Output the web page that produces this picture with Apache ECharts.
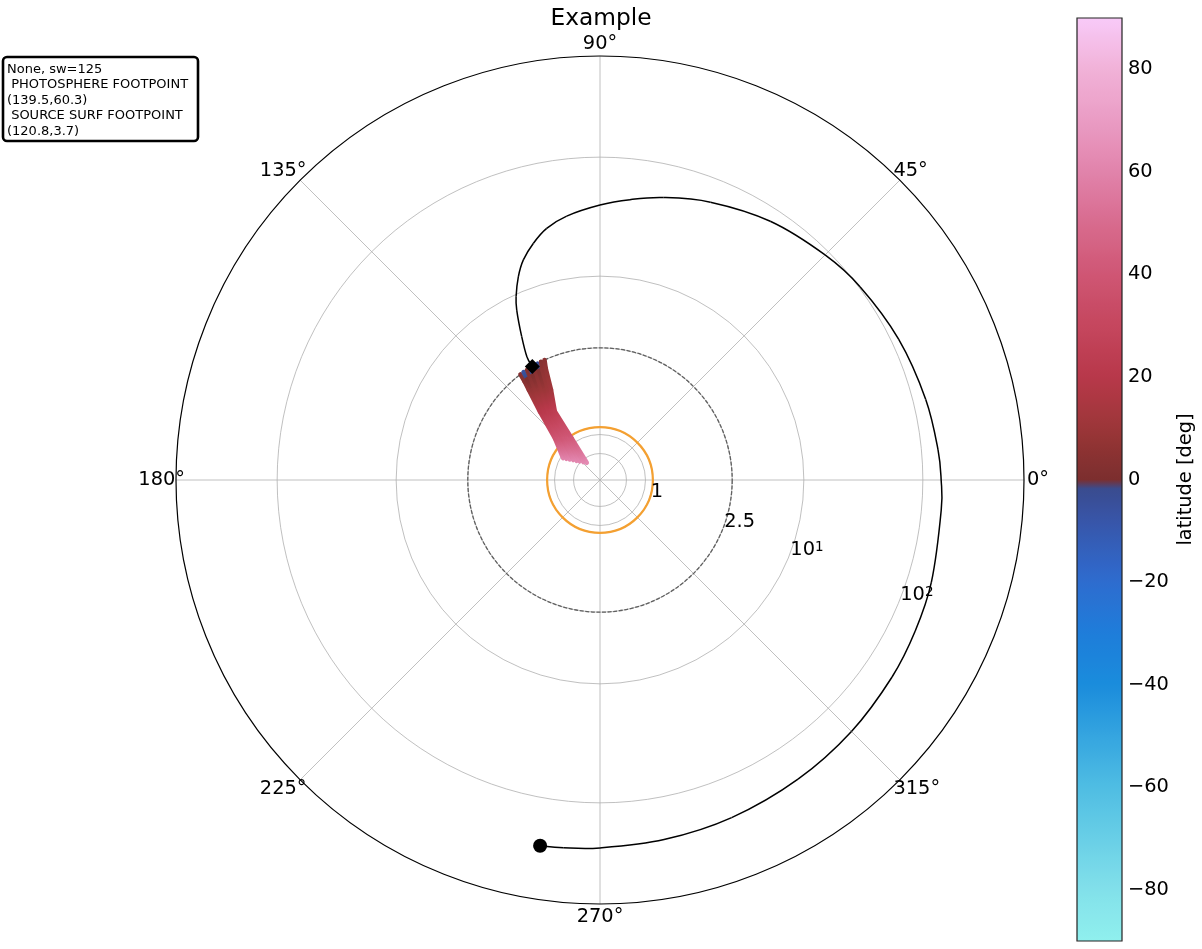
<!DOCTYPE html>
<html><head><meta charset="utf-8">
<script src="https://cdn.jsdelivr.net/npm/echarts@6/dist/echarts.min.js"></script>
<style>html,body{margin:0;padding:0;background:#fff}#c{width:1202px;height:949px}</style>
</head><body><div id="c"></div>
<script>
const FONT = 'DejaVu Sans';

// ---- radial scale (symlog, linear below 2.5) ----
const LINTHRESH = 2.5;
const RMAX = 708;
const RING_R = [0.5, 0.86, 1, 2.5, 10, 100];
const R_TICKS = [1, 2.5, 10, 100];
const R_TICK_LABELS = ['1', '2.5', '10{s|1}', '10{s|2}'];
const R_LABEL_ANGLE = 337.5;
const ANGLE_LABELS_OUTER = [0, 90, 270];          // labels placed from the outer circle
const ANGLE_LABELS_INNER = [45, 135, 180, 225, 315]; // labels placed from a slightly smaller circle
const SUN_R = 1;
const SOURCE_SURF_R = 2.5;

// ---- Parker spiral ----
const SPIRAL_THETA = [120.8, 120.7, 118.65, 116.1, 114.6, 111.9, 109.2, 105.7, 101.96, 97.19, 90, 83.9, 77.38, 68.32, 56.65, 45, 36.63, 25.26, 13.9, 5.09, 0, 354.97, 342.86, 334.4, 326, 315, 303.5, 291.3, 280.1, 270, 264.3, 260.7];
const SPIRAL_R = [2.5, 3.08, 4.56, 7.54, 9.57, 13.4, 17.6, 22.6, 28.1, 33.3, 39.6, 45.3, 52.4, 63.0, 77.6, 91.5, 102.2, 115.2, 127.9, 137.7, 142.5, 146.4, 158.9, 167.6, 176.7, 188.5, 200.3, 214.8, 227.2, 239.1, 246.7, 252.0];
const SS_FOOT = [2.5, 120.8];
const END_POINT = [252.0, 260.7];

// ---- field lines: r, theta, latitude per point ----
const FL_R = [
  [2.5, 2.35, 2.17, 1.72, 1.16, 0.81],
  [2.5, 2.35, 2.13, 1.69, 1.13, 0.75],
  [2.5, 2.35, 2.09, 1.67, 1.09, 0.69],
  [2.5, 2.35, 2.06, 1.65, 1.06, 0.63],
  [2.5, 2.35, 2.03, 1.62, 1.03, 0.57],
  [2.5, 2.35, 1.99, 1.60, 1.01, 0.52],
  [2.5, 2.35, 1.96, 1.57, 0.98, 0.46],
  [2.5, 2.35, 1.94, 1.55, 0.95, 0.41]
];
const FL_THETA = [
  [127.0, 127.4, 128.3, 131.3, 137.2, 149.4],
  [125.3, 125.8, 127.0, 130.3, 135.6, 147.7],
  [123.5, 124.2, 125.7, 129.4, 134.0, 145.7],
  [121.8, 122.6, 124.3, 128.3, 132.2, 143.3],
  [120.0, 120.9, 122.9, 127.3, 130.3, 140.5],
  [118.3, 119.3, 121.5, 126.2, 128.4, 137.1],
  [116.5, 117.6, 120.0, 124.8, 126.3, 132.9],
  [114.8, 115.9, 118.5, 123.4, 124.2, 127.5]
];
const FL_LAT = [
  [3, 4, 8, 20, 38, 60],
  [-6, 1, 8, 20, 39, 60],
  [2, 4, 9, 21, 40, 61],
  [-6, 1, 9, 21, 40, 61],
  [3, 5, 10, 22, 41, 62],
  [-5, 2, 10, 22, 41, 62],
  [4, 6, 11, 23, 42, 62],
  [5, 7, 12, 24, 42, 63]
];

// ---- colorbar ----
const CB_MIN = -90, CB_MAX = 90;
const CB_TICKS = [-80, -60, -40, -20, 0, 20, 40, 60, 80];
const CMAP_V = [-90, -80, -60, -40, -30, -20, -10, -1, 0, 5, 10, 20, 30, 40, 50, 60, 70, 80, 90];
const CMAP_C = ['#90f0ee','#82e0ea','#4fbde3','#1a8cdc','#1e7dda','#2e6ccf','#3659b0','#3b4a8c','#7c2e2e','#8a3232','#9c3638','#b8384a','#c5465e','#cf5674','#d86b8e','#e183ab','#ea9cc4','#f1b2d8','#f8caf8'];

const LEGEND_LINES = ['None, sw=125', ' PHOTOSPHERE FOOTPOINT', '(139.5,60.3)', ' SOURCE SURF FOOTPOINT', '(120.8,3.7)'];

// ---------------------------------------------
const POLAR_R_PX = 424;
const LS = 1 / (1 - 0.1);
function tf(r) { return r <= LINTHRESH ? r * LS : LINTHRESH * (LS + Math.log10(r / LINTHRESH)); }
function hex2rgb(h) { return [parseInt(h.slice(1,3),16), parseInt(h.slice(3,5),16), parseInt(h.slice(5,7),16)]; }
const CMAP_RGB = CMAP_C.map(hex2rgb);
function cmap(v) {
  if (v <= CMAP_V[0]) return CMAP_C[0];
  for (let i = 1; i < CMAP_V.length; i++) {
    if (v <= CMAP_V[i]) {
      const t = (v - CMAP_V[i-1]) / (CMAP_V[i] - CMAP_V[i-1]);
      const a = CMAP_RGB[i-1], b = CMAP_RGB[i];
      return 'rgb(' + [0,1,2].map(k => Math.round(a[k] + (b[k]-a[k]) * t)).join(',') + ')';
    }
  }
  return CMAP_C[CMAP_C.length-1];
}
const CB_COLORS = [];
for (let v = CB_MIN; v <= CB_MAX; v++) CB_COLORS.push(cmap(v));

const flData = [];
FL_R.forEach((rs, i) => {
  for (let j = 0; j < rs.length - 1; j++) {
    flData.push([tf(rs[j]), FL_THETA[i][j], tf(rs[j+1]), FL_THETA[i][j+1], FL_LAT[i][j], FL_LAT[i][j+1]]);
  }
});

// spiral: one item per segment, with neighbours for smooth (Catmull-Rom) drawing
const spiralData = [];
{
  const n = SPIRAL_R.length;
  const at = k => { const q = Math.max(0, Math.min(n - 1, k)); return [tf(SPIRAL_R[q]), SPIRAL_THETA[q]]; };
  for (let i = 0; i < n - 1; i++) spiralData.push([].concat(at(i - 1), at(i), at(i + 1), at(i + 2)));
}

function circleSeries(rs, style) {
  return {
    type: 'custom', coordinateSystem: 'polar', silent: true,
    data: rs.map(r => [tf(r), 0]),
    renderItem: function (params, api) {
      const c = api.coord([0, 0]);
      const p = api.coord([api.value(0), 0]);
      const R = Math.hypot(p[0] - c[0], p[1] - c[1]);
      return { type: 'circle', shape: { cx: c[0], cy: c[1], r: R }, style: Object.assign({ fill: 'none' }, style) };
    }
  };
}
const RT_MAX = tf(RMAX);
const lblFont = { fontSize: 19.4, fontFamily: FONT, color: '#000' };
const angleLabelStyle = (list, margin) => ({
  margin: margin, fontSize: 19.4, fontFamily: FONT, color: '#000',
  formatter: v => {
    const a = Math.round(v);
    if (list.indexOf(a) < 0) return '';
    if (a === 45 || a === 135) return '{u|' + a + '°}';
    if (a === 225 || a === 315) return '{d|' + a + '°}';
    return a + '°';
  },
  rich: {
    u: Object.assign({ padding: [0, 0, 6, 0] }, lblFont),
    d: Object.assign({ padding: [6, 0, 0, 0] }, lblFont)
  }
});

const chart = echarts.init(document.getElementById('c'), null, { renderer: 'canvas' });
chart.setOption({
  animation: false,
  backgroundColor: '#fff',
  textStyle: { fontFamily: FONT },
  title: { text: 'Example', left: 'center', top: 7, padding: 0,
    textStyle: { fontFamily: FONT, fontSize: 23.3, fontWeight: 'normal', color: '#000' } },
  polar: [{ center: [600, 480], radius: POLAR_R_PX }, { center: [600, 480], radius: 411 }],
  angleAxis: [{
    polarIndex: 0,
    type: 'value', min: 0, max: 360, interval: 45, startAngle: 0, clockwise: false,
    axisLine: { lineStyle: { color: '#000', width: 1.2 } },
    axisTick: { show: false },
    axisLabel: angleLabelStyle(ANGLE_LABELS_OUTER, 3),
    splitLine: { lineStyle: { color: '#b0b0b0', width: 0.8 } }
  }, {
    polarIndex: 1,
    type: 'value', min: 0, max: 360, interval: 45, startAngle: 0, clockwise: false,
    axisLine: { show: false }, axisTick: { show: false }, splitLine: { show: false },
    axisLabel: angleLabelStyle(ANGLE_LABELS_INNER, 4)
  }],
  radiusAxis: [{
    polarIndex: 0,
    type: 'value', min: 0, max: RT_MAX,
    axisLine: { show: false }, axisTick: { show: false }, axisLabel: { show: false }, splitLine: { show: false }
  }, {
    polarIndex: 1,
    type: 'value', min: 0, max: 1,
    axisLine: { show: false }, axisTick: { show: false }, axisLabel: { show: false }, splitLine: { show: false }
  }],
  grid: { left: 1077, top: 18, width: 45, height: 923, containLabel: false, outerBoundsMode: 'none' },
  xAxis: { type: 'value', show: false, min: 0, max: 1 },
  yAxis: {
    type: 'value', min: CB_MIN, max: CB_MAX, position: 'right',
    axisLine: { show: false },
    axisTick: { show: true, customValues: CB_TICKS, length: 5, lineStyle: { color: '#000', width: 1 } },
    axisLabel: { customValues: CB_TICKS, fontSize: 19.4, fontFamily: FONT, color: '#000', margin: 6,
      formatter: v => String(v).replace('-', '\u2212') },
    splitLine: { show: false },
    name: 'latitude [deg]', nameLocation: 'middle', nameRotate: 90, nameGap: 54,
    nameTextStyle: { fontSize: 19.4, fontFamily: FONT, color: '#000' }
  },
  visualMap: {
    type: 'continuous', min: CB_MIN, max: CB_MAX, seriesIndex: [], calculable: false, hoverLink: false,
    left: 1077, top: 18, itemWidth: 45, itemHeight: 923, padding: 0, text: null,
    inRange: { color: CB_COLORS }
  },
  graphic: [
    { type: 'rect', z: 100, shape: { x: 1077, y: 18, width: 45, height: 923 }, style: { fill: 'none', stroke: '#222', lineWidth: 1.2 } },
    { type: 'rect', z: 100, shape: { x: 3, y: 57, width: 195, height: 84, r: 4 }, style: { fill: '#fff', stroke: '#000', lineWidth: 2.6 } },
    { type: 'text', z: 101, x: 7, y: 62, style: { text: LEGEND_LINES.join('\n'), font: '13px "DejaVu Sans"', lineHeight: 15.4, fill: '#000', verticalAlign: 'top' } }
  ],
  series: [
    circleSeries(RING_R, { stroke: '#b0b0b0', lineWidth: 0.8 }),
    circleSeries([SUN_R], { stroke: '#f4a031', lineWidth: 2.2 }),
    circleSeries([SOURCE_SURF_R], { stroke: '#606060', lineWidth: 1.3, lineDash: [4, 1.6] }),
    {
      type: 'custom', coordinateSystem: 'polar', silent: true,
      data: flData,
      renderItem: function (params, api) {
        const p1 = api.coord([api.value(0), api.value(1)]);
        const p2 = api.coord([api.value(2), api.value(3)]);
        const l1 = api.value(4), l2 = api.value(5);
        const stops = [];
        for (let k = 0; k <= 10; k++) stops.push({ offset: k / 10, color: cmap(l1 + (l2 - l1) * k / 10) });
        return { type: 'line', shape: { x1: p1[0], y1: p1[1], x2: p2[0], y2: p2[1] },
          style: { stroke: new echarts.graphic.LinearGradient(p1[0], p1[1], p2[0], p2[1], stops, true), lineWidth: 4.5, lineCap: 'round' } };
      }
    },
    {
      type: 'custom', coordinateSystem: 'polar', silent: true,
      data: spiralData,
      renderItem: function (params, api) {
        const p = [0, 1, 2, 3].map(k => api.coord([api.value(2 * k), api.value(2 * k + 1)]));
        return { type: 'bezierCurve', shape: {
            x1: p[1][0], y1: p[1][1], x2: p[2][0], y2: p[2][1],
            cpx1: p[1][0] + (p[2][0] - p[0][0]) / 6, cpy1: p[1][1] + (p[2][1] - p[0][1]) / 6,
            cpx2: p[2][0] - (p[3][0] - p[1][0]) / 6, cpy2: p[2][1] - (p[3][1] - p[1][1]) / 6 },
          style: { fill: 'none', stroke: '#000', lineWidth: 1.5 } };
      }
    },
    {
      type: 'scatter', coordinateSystem: 'polar', silent: true,
      data: [{ value: [tf(SS_FOOT[0]), SS_FOOT[1]], symbol: 'diamond', symbolSize: 15 },
             { value: [tf(END_POINT[0]), END_POINT[1]], symbol: 'circle', symbolSize: 14 }],
      itemStyle: { color: '#000', opacity: 1 }
    },
    {
      type: 'custom', coordinateSystem: 'polar', silent: true,
      data: R_TICKS.map((r, i) => [tf(r), R_LABEL_ANGLE, i]),
      renderItem: function (params, api) {
        const p = api.coord([api.value(0), api.value(1)]);
        return { type: 'text', x: p[0] + 2, y: p[1] + 1, style: {
          text: R_TICK_LABELS[api.value(2)], fontSize: 19.4, fontFamily: FONT, fill: '#000',
          align: 'left', verticalAlign: 'bottom',
          rich: { s: { fontSize: 13.5, fontFamily: FONT, fill: '#000', verticalAlign: 'top' } } } };
      }
    }
  ]
});
</script>
</body></html>
